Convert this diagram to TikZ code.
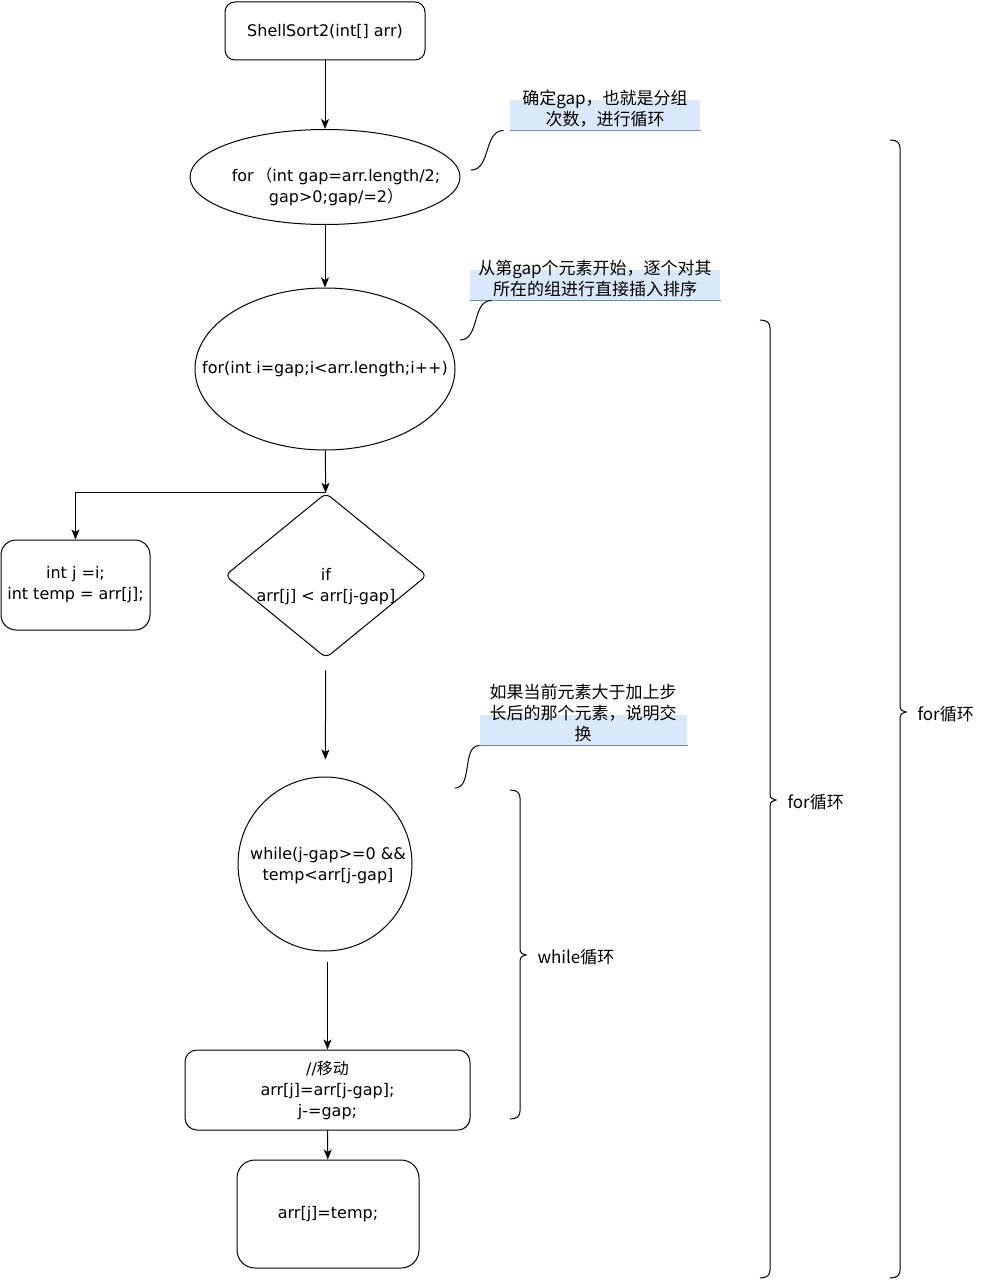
\documentclass[tikz,border=0pt]{standalone}
\usepackage{fontspec}
\setmainfont{DejaVu Sans}
\newfontfamily\cjk{Noto Sans CJK SC}
\usetikzlibrary{shapes.geometric,arrows.meta,positioning}
\definecolor{notefill}{HTML}{DAE8FC}
\definecolor{noteline}{HTML}{6C8EBF}
\tikzset{
	every node/.style={font=\fontsize{16pt}{21pt}\selectfont},
	codebox/.style={draw, rounded corners=10pt, align=center, inner sep=2pt},
	loopshape/.style={draw, ellipse, inner sep=0pt},
	notebox/.style={fill=notefill, inner sep=0pt},
	notetext/.style={align=center, font=\cjk\fontsize{17pt}{21pt}\selectfont},
	bracelabel/.style={anchor=west, inner sep=0pt, font=\cjk\fontsize{17pt}{21pt}\selectfont}
}
\begin{document}
\begin{tikzpicture}[x=1pt, y=-1pt, line width=1pt, >={Stealth[length=10pt,width=8pt,inset=2.5pt]}]
			\useasboundingbox (0,0) rectangle (991,1281);
			% flow
			\node[codebox, minimum width=200, minimum height=58] (start) at (325,31) {ShellSort2(int[] arr)};
			\node[loopshape, minimum width=270, minimum height=95] (gaploop) at (325,177) {};
			\node[align=center] (gaptext) at (336,187) {for\,{\cjk （}int gap=arr.length/2;\\gap>0;gap/=2{\cjk ）}};
			\node[loopshape, minimum width=260, minimum height=162] (iloop) at (325,369) {};
			\node (itext) at (325,369) {for(int i=gap;i<arr.length;i++)};
			\node[codebox, rounded corners=15pt, minimum width=149, minimum height=90] (init) at (75.5,585) {int j =i;\\int temp = arr[j];};
			\node[draw, diamond, rounded corners=6pt, minimum width=202, minimum height=165, inner sep=0pt] (cond) at (326,575.5) {};
			\node[align=center] (condtext) at (326,587) {if\\arr[j] < arr[j-gap]};
			\node[draw, circle, minimum size=174, inner sep=0pt] (inner) at (325,864) {};
			\node[align=center] (innertext) at (328,866) {while(j-gap>=0 \&\&\\temp<arr[j-gap]};
			\node[codebox, rounded corners=12pt, minimum width=285, minimum height=80] (move) at (327.5,1090) {//{\cjk 移动}\\arr[j]=arr[j-gap];\\j-=gap;};
			\node[codebox, rounded corners=18pt, minimum width=182, minimum height=108] (fin) at (328,1214) {arr[j]=temp;};
			\draw[->] (start) -- (gaploop);
			\draw[->] (gaploop) -- (iloop);
			\draw[->] (iloop) -- (cond);
			\draw[->] (cond.north) -| (init.north);
			\draw[->, shorten <=12pt, shorten >=17pt] (cond) -- (inner);
			\draw[->, shorten <=10pt] (inner.south -| move.north) -- (move.north);
			\draw[->] (move) -- (fin);
			% notes
			\node[notebox, minimum width=190, minimum height=30] (note1) at (605,115) {};
			\draw[noteline] (note1.south west) -- (note1.south east);
			\node[notetext] (note1text) at (605,108.5) {确定gap，也就是分组\\次数，进行循环};
			\coordinate (tail1) at (471,170);
			\draw (tail1) .. controls +(20,0) and +(-20,0) .. ([xshift=-6pt]note1.south west);
			\node[notebox, minimum width=250, minimum height=30] (note2) at (595,285) {};
			\draw[noteline] (note2.south west) -- (note2.south east);
			\node[notetext] (note2text) at (595,278.5) {从第gap个元素开始，逐个对其\\所在的组进行直接插入排序};
			\coordinate (tail2) at (460,340);
			\draw (tail2) .. controls +(20,0) and +(-20,0) .. ([xshift=22pt]note2.south west);
			\node[notebox, minimum width=207, minimum height=30] (note3) at (583.5,730) {};
			\draw[noteline] (note3.south west) -- (note3.south east);
			\node[notetext] (note3text) at (583,713) {如果当前元素大于加上步\\长后的那个元素，说明交\\换};
			\coordinate (tail3) at (455,788);
			\draw (tail3) .. controls +(18,0) and +(-18,0) .. (note3.south west);
			% braces
			\foreach \bx/\btop/\bbot/\bmid/\bname/\btxt in {510/790/1119/955/whilebrace/while循环, 760/320/1278/800/forbrace/for循环, 890/140/1278/712/outerbrace/for循环}
			{
				\draw (\bx,\btop) .. controls (\bx+7,\btop) and (\bx+10,\btop+3) .. (\bx+10,\btop+8) -- (\bx+10,\bmid-6)
					.. controls (\bx+10,\bmid-2) and (\bx+13,\bmid) .. (\bx+16,\bmid)
					.. controls (\bx+13,\bmid) and (\bx+10,\bmid+2) .. (\bx+10,\bmid+6) -- (\bx+10,\bbot-8)
					.. controls (\bx+10,\bbot-3) and (\bx+7,\bbot) .. (\bx,\bbot);
				\node[bracelabel] (\bname) at (\bx+27,\bmid+2) {\btxt};
			}
\end{tikzpicture}
\end{document}
